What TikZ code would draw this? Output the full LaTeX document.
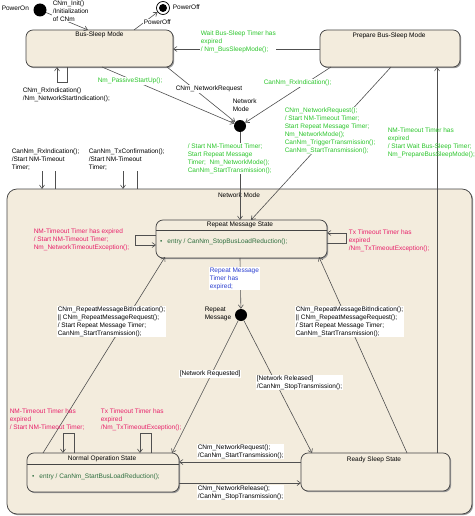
\documentclass[tikz,border=0pt]{standalone}
\usepackage{fontspec}
\setmainfont{Liberation Sans}
\usetikzlibrary{arrows.meta,calc,shadows}
\definecolor{beige}{HTML}{F3ECDD}
\definecolor{edge}{HTML}{444444}
\definecolor{lineg}{HTML}{505050}
\definecolor{lgreen}{HTML}{2BC62B}
\definecolor{pinkc}{HTML}{E8206A}
\definecolor{lblue}{HTML}{2B3FD0}
\definecolor{dgreen}{HTML}{2D6E3E}
\tikzset{
  stbox/.style={draw=edge, fill=beige, rounded corners=7pt, line width=0.75pt, anchor=north west, inner sep=0pt, outer sep=0pt,
    drop shadow={shadow xshift=1.2pt, shadow yshift=-1.2pt, fill=black!40, opacity=1}},
  ttl/.style={font=\fontsize{6.5}{8}\selectfont, inner sep=0pt, text=black},
  entrytxt/.style={font=\fontsize{6.5}{8}\selectfont, inner sep=0pt, anchor=west, text=dgreen},
  lbl/.style={font=\fontsize{6.5}{8}\selectfont, align=left, anchor=north west, inner sep=0.6pt, text=black},
  wlbl/.style={lbl, fill=white},
  glbl/.style={lbl, text=lgreen, fill=white},
  plbl/.style={lbl, text=pinkc},
  blbl/.style={lbl, text=lblue, fill=white},
  conn/.style={draw=lineg, line width=0.6pt, -{Straight Barb[length=3.5pt,width=5pt]}},
  sepline/.style={draw=edge, line width=0.75pt},
  blackdot/.style={circle, fill=black, inner sep=0pt, minimum size=12pt},
}
\begin{document}
\begin{tikzpicture}[x=1pt,y=-1pt]
\useasboundingbox (0,0) rectangle (474,516);
\fill[white] (0,0) rectangle (474,516);

% ---------- boxes ----------
\node[stbox, rounded corners=10pt, minimum width=465pt, minimum height=325pt] (nmb) at (7,189) {};
\node[ttl] (nmbt) at (239,195) {Network Mode};

\node[stbox, minimum width=147pt, minimum height=37pt] (bs) at (26,30) {};
\node[ttl] (bst) at (99.5,35) {Bus-Sleep Mode};

\node[stbox, minimum width=140pt, minimum height=37pt] (pbs) at (320,30) {};
\node[ttl] (pbst) at (389,36) {Prepare Bus-Sleep Mode};

\node[stbox, minimum width=171pt, minimum height=38pt] (rms) at (156,220) {};
\node[ttl] (rmst) at (240,225) {Repeat Message State};
\draw[sepline] ($(rms.north west)+(0,10)$) -- ($(rms.north east)+(0,10)$);
\node[entrytxt] (rmse) at (160,242) {\textbullet\hspace{5pt}entry / CanNm\_StopBusLoadReduction();};

\node[stbox, minimum width=152pt, minimum height=39pt] (nos) at (27,453) {};
\node[ttl] (nost) at (102,459) {Normal Operation State};
\draw[sepline] ($(nos.north west)+(0,11)$) -- ($(nos.north east)+(0,11)$);
\node[entrytxt] (nose) at (32,477) {\textbullet\hspace{5pt}entry / CanNm\_StartBusLoadReduction();};

\node[stbox, minimum width=149pt, minimum height=38pt] (rss) at (301,453) {};
\node[ttl] (rsst) at (374,460) {Ready Sleep State};

% ---------- pseudo states ----------
\node[blackdot, minimum size=13pt] (pon) at (40,10) {};
\node[circle, draw=black, fill=white, line width=0.7pt, inner sep=0pt, minimum size=13pt] (poff) at (163,8) {};
\node[blackdot, minimum size=8pt] (poffin) at (163,8) {};
\node[blackdot] (nmd) at (240,126) {};
\node[blackdot] (rmd) at (241,315) {};

% ---------- connectors ----------
\draw[conn] (pon) -- ($(bs.north west)+(62,0)$);
\draw[conn] ($(bs.north west)+(108,0)$) -- (poff);
\draw[conn] ($(pbs.north west)+(0,19)$) -- ($(bs.north east)+(0,19)$);
\draw[conn] ($(bs.south west)+(41,0)$) -- ++(0,15) -- ++(-10,0) -- ++(0,-15);
\draw[conn] ($(bs.south west)+(76,0)$) -- (nmd);
\draw[conn] ($(bs.south west)+(141,0)$) -- (nmd);
\draw[conn] ($(pbs.south west)+(11,0)$) -- (nmd);
\draw[conn] ($(pbs.south west)+(71,0)$) -- ($(rms.north west)+(95,0)$);
\draw[conn] (nmd) -- ($(rms.north west)+(84,0)$);
\draw[conn] ($(rss.north west)+(136,0)$) -- ($(pbs.south west)+(117,0)$);

\draw[conn] ($(nmb.north west)+(48,0)$) -- ++(0,-22) -- ++(-13,0) -- ++(0,22);
\draw[conn] ($(nmb.north west)+(130,0)$) -- ++(0,-22) -- ++(-14,0) -- ++(0,22);

\draw[conn] ($(rms.north west)+(0,15)$) -- ++(-21,0) -- ++(0,10) -- ++(21,0);
\draw[conn] ($(rms.north east)+(0,23)$) -- ++(19,0) -- ++(0,-10) -- ++(-19,0);

\draw[conn] ($(rms.south west)+(84,0)$) -- (rmd);
\draw[conn] (rmd) -- ($(nos.north west)+(145,0)$);
\draw[conn] (rmd) -- ($(rss.north west)+(11,0)$);
\draw[conn] ($(nos.north west)+(16,0)$) -- ($(rms.south west)+(9,-1)$);
\draw[conn] ($(rss.north west)+(106,0)$) -- ($(rms.south east)+(-8,-1)$);

\draw[conn] ($(nos.north west)+(47,0)$) -- ++(0,-20) -- ++(-11,0) -- ++(0,20);
\draw[conn] ($(nos.north west)+(124,0)$) -- ++(0,-20) -- ++(-11,0) -- ++(0,20);

\draw[conn] ($(rss.north west)+(0,9)$) -- ($(nos.north east)+(0,9)$);
\draw[conn] ($(nos.north east)+(0,30)$) -- ($(rss.north west)+(0,30)$);

% ---------- labels ----------
\node[wlbl] (lInit) at (52,0) {CNm\_Init()\\/Initialization\\of CNm};
\node[lbl, anchor=west] (lPOn) at (1,8) {PowerOn};
\node[lbl, anchor=west] (lPOff) at (172,7) {PowerOff};
\node[wlbl] (lPOffT) at (143,19) {PowerOff};
\node[glbl] (lWait) at (200,30) {Wait Bus-Sleep Timer has\\expired\\/ Nm\_BusSleepMode();};
\node[wlbl] (lRxB) at (22,87) {CNm\_RxIndication()\\/Nm\_NetworkStartIndication();};
\node[glbl, anchor=west] (lPass) at (97,81) {Nm\_PassiveStartUp();};
\node[wlbl, anchor=west] (lNR) at (175,89) {CNm\_NetworkRequest};
\node[lbl] (lNMode) at (232,98) {Network\\Mode};
\node[glbl, anchor=west] (lRxP) at (263,83) {CanNm\_RxIndication();};
\node[glbl] (lNRP) at (284,107) {CNm\_NetworkRequest();\\/ Start NM-Timeout Timer;\\Start Repeat Message Timer;\\Nm\_NetworkMode();\\CanNm\_TriggerTransmission();\\CanNm\_StartTransmission();};
\node[glbl] (lStart) at (187,143) {/ Start NM-Timeout Timer;\\Start Repeat Message\\Timer;\ \ Nm\_NetworkMode();\\CanNm\_StartTransmission();};
\node[lbl, text=lgreen] (lPrep) at (387,127) {NM-Timeout Timer has\\expired\\/ Start Wait Bus-Sleep Timer;\\Nm\_PrepareBusSleepMode();};
\node[wlbl] (lRxN) at (11,148) {CanNm\_RxIndication();\\/Start NM-Timeout\\Timer;};
\node[wlbl] (lTxN) at (88,148) {CanNm\_TxConfirmation();\\/Start NM-Timeout\\Timer;};
\node[plbl] (lNMT) at (33,228) {NM-Timeout Timer has expired\\/ Start NM-Timeout Timer;\\Nm\_NetworkTimeoutException();};
\node[plbl] (lTxT) at (348,229) {Tx Timeout Timer has\\expired\\/Nm\_TxTimeoutException();};
\node[blbl] (lRMT) at (209,267) {Repeat Message\\Timer has\\expired;};
\node[lbl] (lRM) at (204,306) {Repeat\\Message};
\node[wlbl] (lBitL) at (57,306) {CNm\_RepeatMessageBitIndication();\\|| CNm\_RepeatMessageRequest();\\/ Start Repeat Message Timer;\\CanNm\_StartTransmission();};
\node[wlbl] (lBitR) at (295,306) {CNm\_RepeatMessageBitIndication();\\|| CNm\_RepeatMessageRequest();\\/ Start Repeat Message Timer;\\CanNm\_StartTransmission();};
\node[wlbl, anchor=west] (lNReq) at (179,374) {[Network Requested]};
\node[wlbl] (lNRel) at (256,375) {[Network Released]\\/CanNm\_StopTransmission();};
\node[plbl] (lNMT2) at (9,408) {NM-Timeout Timer has\\expired\\/ Start NM-Timeout Timer;};
\node[plbl] (lTxT2) at (100,408) {Tx Timeout Timer has\\expired\\/Nm\_TxTimeoutException();};
\node[wlbl] (lNRq2) at (197,444) {CNm\_NetworkRequest();\\/CanNm\_StartTransmission();};
\node[wlbl] (lNRl2) at (197,485) {CNm\_NetworkRelease();\\/CanNm\_StopTransmission();};
\end{tikzpicture}
\end{document}
